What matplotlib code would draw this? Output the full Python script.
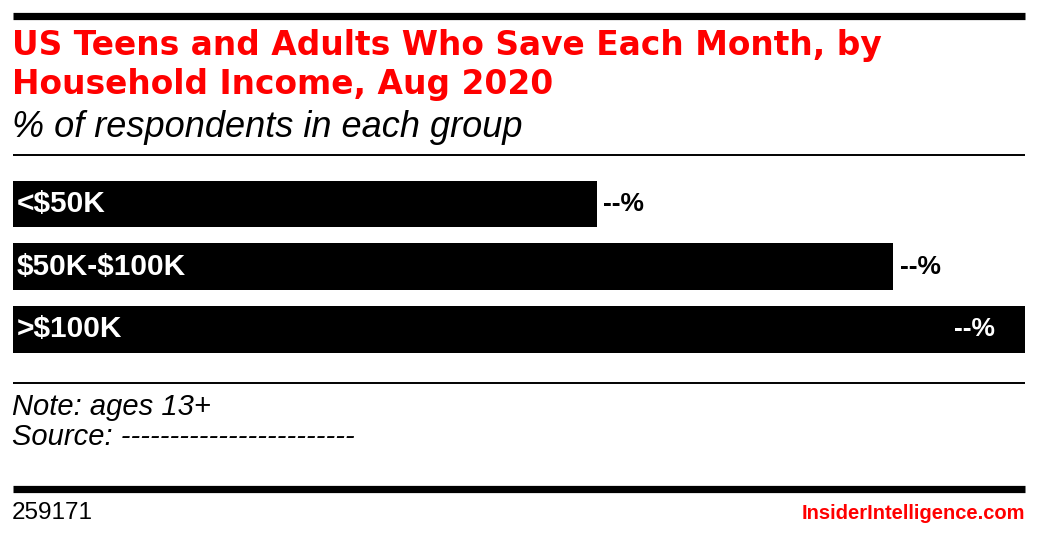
import matplotlib
matplotlib.use('Agg')
import matplotlib.pyplot as plt
from matplotlib.lines import Line2D

plt.rcParams['font.family'] = ['Liberation Sans', 'DejaVu Sans']
plt.rcParams['text.parse_math'] = False

# data
categories = ['<$50K', '$50K-$100K', '>$100K']
values = [57.7, 87.0, 100.0]
value_labels = ['--%', '--%', '--%']

W, H = 1038, 538
RED = '#ff0000'

fig = plt.figure(figsize=(W / 100, H / 100), dpi=100)

def fx(px):
    return px / W

def fy(py):
    return 1 - py / H

def hline(y, lw, x0=13, x1=1025):
    fig.add_artist(Line2D([fx(x0), fx(x1)], [fy(y), fy(y)], color='black', lw=lw,
                          transform=fig.transFigure, solid_capstyle='butt'))

# rules
hline(15.5, 5.2)
hline(154.5, 1.4)
hline(383, 1.4)
hline(489, 5.2)

# title block
fig.text(fx(12), fy(55), 'US Teens and Adults Who Save Each Month, by', color=RED,
         fontsize=23.7, fontweight='bold', family='DejaVu Sans', va='baseline', ha='left')
fig.text(fx(12), fy(94), 'Household Income, Aug 2020', color=RED,
         fontsize=23.7, fontweight='bold', family='DejaVu Sans', va='baseline', ha='left')
fig.text(fx(12), fy(137), '% of respondents in each group', color='black',
         fontsize=26, style='italic', va='baseline', ha='left')

# bars
ax = fig.add_axes([fx(13), fy(352.5), fx(1025) - fx(13), (352.5 - 181) / H])
y = list(range(len(categories)))
bh = 0.744
ax.barh(y, values, height=bh, color='black')
ax.set_xlim(0, max(values))
ax.set_ylim(len(categories) - 1 + bh / 2, -bh / 2)
ax.axis('off')

for i, (cat, v, lab) in enumerate(zip(categories, values, value_labels)):
    ax.text(0.4, i, cat, color='white', fontsize=21.5, fontweight='bold',
            va='center', ha='left')
    if v >= 95:
        ax.text(v - 3, i, lab, color='white', fontsize=19, fontweight='bold',
                va='center', ha='right')
    else:
        ax.text(v + 0.6, i, lab, color='black', fontsize=19, fontweight='bold',
                va='center', ha='left')

# notes
fig.text(fx(12), fy(415), 'Note: ages 13+', fontsize=21, style='italic',
         va='baseline', ha='left')
fig.text(fx(12), fy(445), 'Source: ------------------------', fontsize=21, style='italic',
         va='baseline', ha='left')

# footer
fig.text(fx(12), fy(519), '259171', fontsize=17.5, va='baseline', ha='left')
fig.text(fx(1025), fy(519), 'InsiderIntelligence.com', fontsize=14.5, color=RED,
         fontweight='bold', va='baseline', ha='right')

fig.savefig('out.png', dpi=100, facecolor='white')
